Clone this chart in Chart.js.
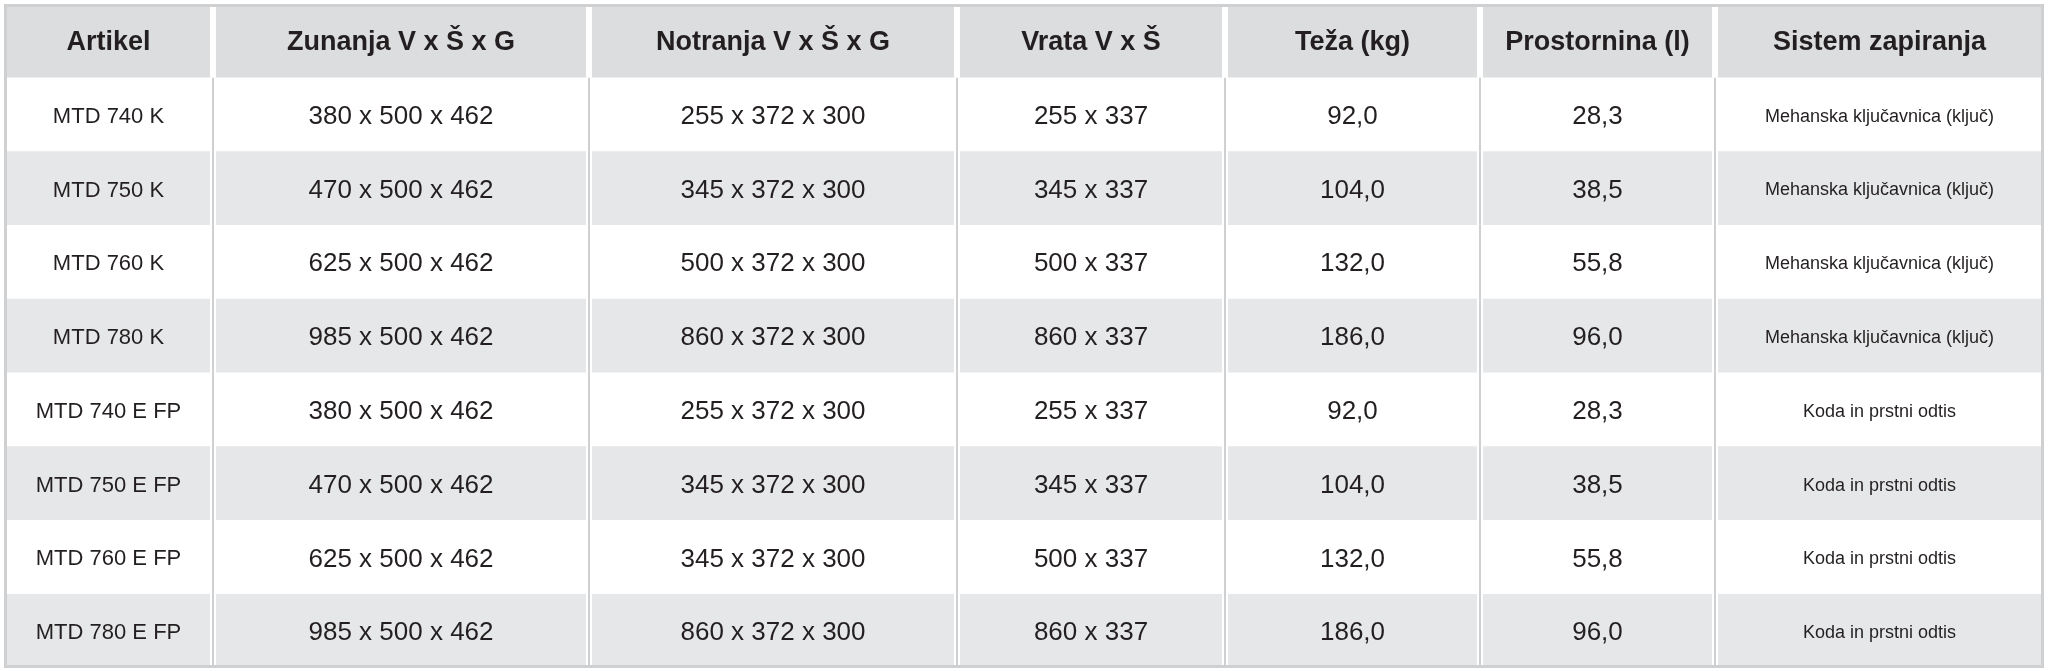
<!DOCTYPE html>
<html><head><meta charset="utf-8">
<script src="https://cdn.jsdelivr.net/npm/chart.js@4/dist/chart.umd.min.js"></script>
<style>html,body{margin:0;padding:0;background:#fff}#w{width:2048px;height:671px}</style>
</head><body><div id="w"><canvas id="c"></canvas></div>
<script>
const headers = ["Artikel","Zunanja V x Š x G","Notranja V x Š x G","Vrata V x Š","Teža (kg)","Prostornina (l)","Sistem zapiranja"];
const articles = ["MTD 740 K","MTD 750 K","MTD 760 K","MTD 780 K","MTD 740 E FP","MTD 750 E FP","MTD 760 E FP","MTD 780 E FP"];
const outer = ["380 x 500 x 462","470 x 500 x 462","625 x 500 x 462","985 x 500 x 462","380 x 500 x 462","470 x 500 x 462","625 x 500 x 462","985 x 500 x 462"];
const inner = ["255 x 372 x 300","345 x 372 x 300","500 x 372 x 300","860 x 372 x 300","255 x 372 x 300","345 x 372 x 300","345 x 372 x 300","860 x 372 x 300"];
const door = ["255 x 337","345 x 337","500 x 337","860 x 337","255 x 337","345 x 337","500 x 337","860 x 337"];
const weight = ["92,0","104,0","132,0","186,0","92,0","104,0","132,0","186,0"];
const volume = ["28,3","38,5","55,8","96,0","28,3","38,5","55,8","96,0"];
const lock = ["Mehanska ključavnica (ključ)","Mehanska ključavnica (ključ)","Mehanska ključavnica (ključ)","Mehanska ključavnica (ključ)","Koda in prstni odtis","Koda in prstni odtis","Koda in prstni odtis","Koda in prstni odtis"];

const colWidths = [209,376,368,268,255,235,329];
const edges = [0]; colWidths.forEach(w=>edges.push(edges[edges.length-1]+w));
const total = edges[edges.length-1];
const rowLabels = ["header"].concat(articles);
const columns = [articles,outer,inner,door,weight,volume,lock];
const fonts = ['22px "Liberation Sans"','26px "Liberation Sans"','26px "Liberation Sans"','26px "Liberation Sans"','26px "Liberation Sans"','26px "Liberation Sans"','18px "Liberation Sans"'];

const tablePlugin = {
  id:'table',
  afterDatasetsDraw(chart){
    const ctx=chart.ctx, xs=chart.scales.x, ys=chart.scales.y;
    const half=(ys.getPixelForValue(1)-ys.getPixelForValue(0))/2;
    const top=ys.getPixelForValue(0)-half, bot=ys.getPixelForValue(rowLabels.length-1)+half;
    ctx.save();
    // column separators
    for(let i=1;i<edges.length-1;i++){
      const x=xs.getPixelForValue(edges[i]);
      ctx.fillStyle='#ffffff'; ctx.fillRect(x-3,top,6,bot-top);
      ctx.fillStyle='#cfd0d2'; ctx.fillRect(x-1,top+ (2*half),2,bot-top-2*half);
    }
    ctx.strokeStyle='#cfd0d2'; ctx.lineWidth=3;
    ctx.strokeRect(xs.getPixelForValue(0)+1.5,top+1.5,xs.getPixelForValue(total)-xs.getPixelForValue(0)-3,bot-top-3);
    ctx.fillStyle='#231f20'; ctx.textAlign='center'; ctx.textBaseline='middle';
    ctx.font='bold 27px "Liberation Sans"';
    headers.forEach((h,c)=>{
      const cx=(xs.getPixelForValue(edges[c])+xs.getPixelForValue(edges[c+1]))/2;
      ctx.fillText(h,cx,ys.getPixelForValue(0)+2);
    });
    columns.forEach((col,c)=>{
      const cx=(xs.getPixelForValue(edges[c])+xs.getPixelForValue(edges[c+1]))/2;
      ctx.font=fonts[c];
      col.forEach((v,r)=>ctx.fillText(v,cx,ys.getPixelForValue(r+1)+2));
    });
    ctx.restore();
  }
};

new Chart(document.getElementById('c'),{
  type:'bar',
  data:{labels:rowLabels,datasets:[{
    data:rowLabels.map(()=>[0,total]),
    backgroundColor:rowLabels.map((l,i)=>i===0?'#dcdddf':(i%2===0?'#e6e7e8':'#ffffff')),
    borderWidth:0,barPercentage:1,categoryPercentage:1
  }]},
  options:{indexAxis:'y',responsive:true,maintainAspectRatio:false,animation:false,
    layout:{padding:{left:4,right:4,top:4,bottom:3}},
    plugins:{legend:{display:false},tooltip:{enabled:false}},
    scales:{x:{type:'linear',min:0,max:total,display:false},y:{display:false}}},
  plugins:[tablePlugin]
});
</script></body></html>
